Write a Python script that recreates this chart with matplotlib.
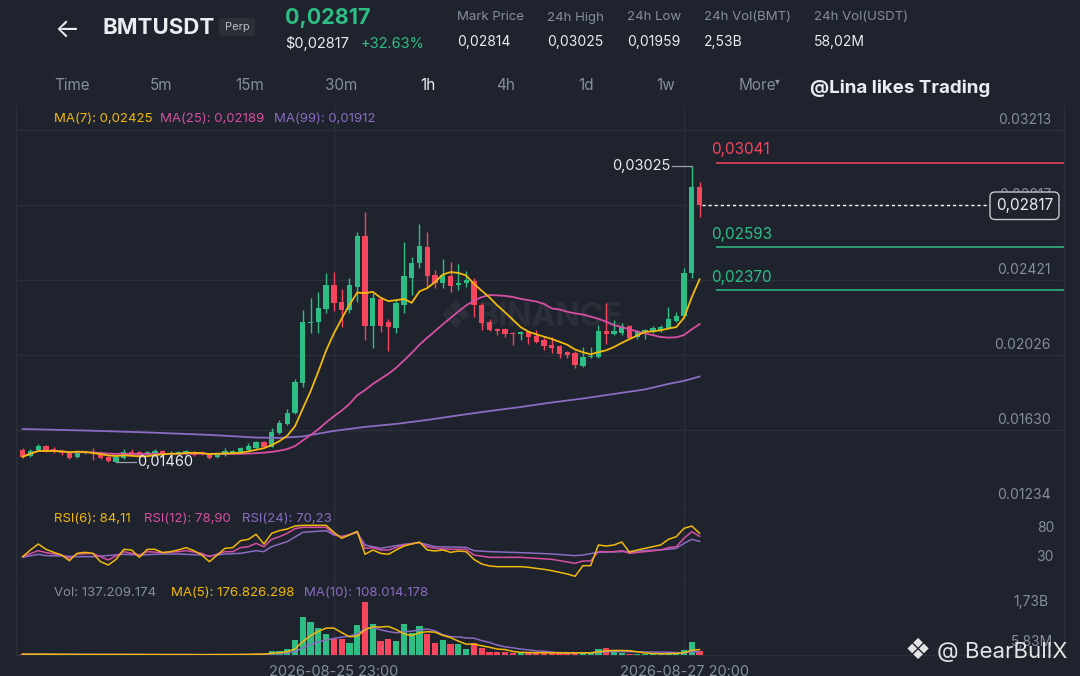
import numpy as np
import pandas as pd
import matplotlib
matplotlib.use("Agg")
import matplotlib.pyplot as plt
import matplotlib.transforms as mtransforms
from matplotlib.patches import FancyBboxPatch

# ---------------------------------------------------------------- data
# BMTUSDT perpetual, 1h candles
opens = [0.01524, 0.01493, 0.01524, 0.01545, 0.01530, 0.01521, 0.01511, 0.01486, 0.01507, 0.01512,
         0.01502, 0.01486, 0.01463, 0.01481, 0.01512, 0.01512, 0.01499, 0.01507, 0.01517, 0.01502,
         0.01502, 0.01504, 0.01515, 0.01515, 0.01503, 0.01486, 0.01498, 0.01507, 0.01512, 0.01524,
         0.01533, 0.01565, 0.01542, 0.01613, 0.01662, 0.01718, 0.01877, 0.02197, 0.02200, 0.02269,
         0.02396, 0.02304, 0.02264, 0.02387, 0.02654, 0.02179, 0.02320, 0.02202, 0.02170, 0.02290,
         0.02434, 0.02510, 0.02598, 0.02448, 0.02405, 0.02443, 0.02394, 0.02406, 0.02418, 0.02291,
         0.02202, 0.02165, 0.02163, 0.02144, 0.02135, 0.02148, 0.02126, 0.02105, 0.02079, 0.02074,
         0.02043, 0.02035, 0.01970, 0.02014, 0.02013, 0.02150, 0.02136, 0.02141, 0.02181, 0.02119,
         0.02146, 0.02150, 0.02158, 0.02170, 0.02207, 0.02232, 0.02460, 0.02910]
highs = [0.01533, 0.01530, 0.01556, 0.01550, 0.01539, 0.01526, 0.01516, 0.01518, 0.01516, 0.01535,
         0.01507, 0.01491, 0.01491, 0.01530, 0.01528, 0.01517, 0.01517, 0.01532, 0.01522, 0.01521,
         0.01517, 0.01524, 0.01520, 0.01520, 0.01507, 0.01510, 0.01533, 0.01525, 0.01540, 0.01560,
         0.01570, 0.01570, 0.01642, 0.01683, 0.01739, 0.01898, 0.02264, 0.02329, 0.02360, 0.02457,
         0.02461, 0.02375, 0.02431, 0.02677, 0.02781, 0.02353, 0.02334, 0.02216, 0.02318, 0.02621,
         0.02545, 0.02716, 0.02677, 0.02475, 0.02531, 0.02519, 0.02507, 0.02471, 0.02433, 0.02302,
         0.02215, 0.02170, 0.02167, 0.02149, 0.02152, 0.02154, 0.02158, 0.02123, 0.02123, 0.02079,
         0.02049, 0.02047, 0.02070, 0.02070, 0.02184, 0.02302, 0.02211, 0.02194, 0.02184, 0.02158,
         0.02163, 0.02179, 0.02184, 0.02281, 0.02255, 0.02486, 0.03025, 0.02936]
lows = [0.01481, 0.01488, 0.01519, 0.01516, 0.01507, 0.01498, 0.01479, 0.01481, 0.01502, 0.01472,
        0.01477, 0.01462, 0.01460, 0.01478, 0.01490, 0.01486, 0.01496, 0.01504, 0.01494, 0.01489,
        0.01499, 0.01500, 0.01494, 0.01498, 0.01477, 0.01481, 0.01494, 0.01503, 0.01508, 0.01520,
        0.01528, 0.01537, 0.01538, 0.01608, 0.01657, 0.01713, 0.01859, 0.02141, 0.02142, 0.02248,
        0.02258, 0.02175, 0.02246, 0.02307, 0.02105, 0.02065, 0.02149, 0.02049, 0.02144, 0.02246,
        0.02343, 0.02484, 0.02387, 0.02378, 0.02378, 0.02360, 0.02369, 0.02384, 0.02228, 0.02158,
        0.02153, 0.02132, 0.02123, 0.02079, 0.02105, 0.02084, 0.02088, 0.02052, 0.02035, 0.02012,
        0.02009, 0.01959, 0.01964, 0.02012, 0.02011, 0.02084, 0.02132, 0.02132, 0.02109, 0.02110,
        0.02109, 0.02141, 0.02149, 0.02162, 0.02202, 0.02222, 0.02431, 0.02756]
closes = [0.01489, 0.01521, 0.01547, 0.01521, 0.01517, 0.01507, 0.01484, 0.01512, 0.01512, 0.01507,
          0.01481, 0.01465, 0.01486, 0.01512, 0.01494, 0.01489, 0.01512, 0.01521, 0.01498, 0.01507,
          0.01512, 0.01519, 0.01498, 0.01502, 0.01484, 0.01507, 0.01521, 0.01521, 0.01536, 0.01545,
          0.01565, 0.01542, 0.01621, 0.01669, 0.01718, 0.01885, 0.02200, 0.02202, 0.02276, 0.02396,
          0.02299, 0.02264, 0.02396, 0.02654, 0.02179, 0.02325, 0.02179, 0.02172, 0.02299, 0.02440,
          0.02513, 0.02602, 0.02445, 0.02405, 0.02448, 0.02390, 0.02408, 0.02419, 0.02290, 0.02193,
          0.02158, 0.02153, 0.02135, 0.02135, 0.02148, 0.02119, 0.02096, 0.02073, 0.02065, 0.02031,
          0.02026, 0.01973, 0.02017, 0.02021, 0.02150, 0.02136, 0.02150, 0.02179, 0.02114, 0.02150,
          0.02158, 0.02167, 0.02175, 0.02215, 0.02230, 0.02460, 0.02910, 0.02817]
# traded volume, millions of BMT
volume_m = [30, 25, 28, 22, 18, 15, 20, 17, 12, 22, 16, 18, 20, 17, 14, 13, 12, 15, 13, 14,
            11, 13, 12, 11, 16, 14, 18, 16, 24, 30, 45, 38,
            131, 142, 186, 492, 1258, 1083, 875, 689, 514, 514,
            405, 985, 1730, 1006, 459, 514, 470, 1017, 711, 952,
            678, 383, 492, 350, 372, 186, 383, 219, 109, 88,
            88, 77, 77, 75, 66, 77, 66, 66, 66, 77,
            88, 66, 208, 241, 142, 77, 35.0, 42.0, 38.0, 44.0,
            37.01029, 62.5, 68.0, 175.0, 441.422316, 137.209174]

# MA(99) of close (its window reaches back before the first visible candle)
ma99_idx = [0, 8, 16, 24, 30, 33, 36, 40, 44, 48, 52, 56, 60, 64, 68, 72, 76, 80, 83, 85, 87]
ma99_val = [0.01635, 0.01627, 0.01617, 0.01604, 0.01590, 0.01588, 0.01596, 0.01625, 0.01646, 0.01662,
            0.01683, 0.01707, 0.01730, 0.01751, 0.01775, 0.01796, 0.01820, 0.01844, 0.01873, 0.01889,
            0.01912]

rsi6 = [43.9, 55.4, 65.7, 56.5, 51.3, 46.7, 37.0, 49.6, 51.3, 49.6,
        35.2, 29.5, 39.2, 56.5, 55.4, 42.7, 56.5, 56.5, 50.8, 52.5,
        55.4, 59.4, 54.2, 46.7, 35.2, 46.7, 58.2, 59.4, 71.4, 73.7,
        82.4, 65.7, 84.1, 88.7, 91.6, 96.7, 97.9, 97.9, 97.9, 97.9,
        85.8, 75.5, 81.2, 87.5, 47.9, 55.4, 49.6, 47.9, 55.4, 62.2,
        65.7, 69.1, 55.4, 53.6, 55.4, 51.3, 53.6, 52.5, 39.2, 31.2,
        27.8, 26.6, 26.6, 26.6, 26.6, 25.5, 23.7, 22.0, 19.7, 16.8,
        14.0, 10.0, 28.3, 28.3, 64.0, 62.2, 64.0, 69.1, 51.3, 55.4,
        58.2, 61.1, 64.0, 73.7, 78.3, 92.7, 96.7, 84.11]
rsi12_idx = [0, 2, 3, 5, 6, 7, 9, 11, 13, 15, 16, 18, 20, 21, 23, 24, 26, 27, 28, 29,
             30, 31, 32, 33, 34, 35, 36, 39, 40, 41, 43, 44, 45, 46, 47, 49, 51, 52, 53, 55,
             57, 58, 60, 64, 68, 71, 72, 73, 74, 76, 77, 78, 80, 82, 83, 84, 85, 86, 87]
rsi12_val = [43.9, 54.2, 50.8, 46.7, 41.0, 48.5, 49.6, 38.1, 52.5, 46.7, 52.5, 50.8, 52.5, 54.2, 49.6,
             43.9, 52.5, 52.5, 59.4, 61.1, 66.8, 61.1, 73.7, 78.3, 84.1, 92.1, 94.4, 94.4, 82.9, 78.3,
             85.8, 58.2, 59.4, 55.4, 55.4, 64.0, 68.0, 61.1, 58.2, 56.5, 56.5, 46.7, 42.7, 42.7, 39.3,
             32.4, 36.4, 36.4, 52.5, 52.5, 54.2, 49.6, 52.5, 55.4, 59.4, 61.1, 75.5, 87.0, 78.90]
rsi24_idx = [0, 2, 3, 5, 7, 9, 13, 15, 18, 20, 23, 24, 26, 28, 30, 31, 32, 34, 36, 39,
             40, 41, 43, 44, 46, 49, 51, 53, 57, 58, 60, 64, 68, 71, 72, 74, 77, 80, 83, 84,
             85, 86, 87]
rsi24_val = [42.7, 47.9, 45.6, 45.0, 43.9, 43.9, 47.9, 46.7, 48.5, 48.5, 46.7, 45.0, 48.5, 49.6, 54.2,
             52.5, 61.1, 69.7, 85.8, 88.7, 81.2, 78.3, 85.8, 64.0, 58.2, 65.1, 68.0, 61.1, 59.9, 54.2,
             52.5, 50.8, 48.5, 45.6, 46.7, 51.3, 52.5, 54.2, 56.5, 58.2, 66.8, 73.7, 70.23]

price_ticks = [0.01234, 0.01630, 0.02026, 0.02421, 0.02817, 0.03213]
rsi_ticks = [80, 30]
vol_ticks_m = [1730.0, 5.83]
time_idx = [40, 85]
time_labels = ["2026-08-25 23:00", "2026-08-27 20:00"]
levels = [0.03041, 0.02593, 0.02370]
level_kind = ["sell", "buy", "buy"]

# ---------------------------------------------------------------- style
W, H = 1080, 676
BG = "#1f232d"
GRID = "#2a2f3a"
GREEN = "#2ebd85"
RED = "#f6465d"
YELLOW = "#f0b90b"
PINK = "#d64fa2"
PURPLE = "#8a6cc2"
GREY = "#848e9c"
WHITE = "#eaecef"

plt.rcParams["font.family"] = ["Inter", "DejaVu Sans"]

fig = plt.figure(figsize=(W / 100, H / 100), dpi=100, facecolor=BG)
# pixel coordinates with the origin at the top-left corner
PX = mtransforms.Affine2D().scale(1.0 / W, -1.0 / H).translate(0, 1) + fig.transFigure


def rect(x0, y0, x1, y1):
    return [x0 / W, 1 - y1 / H, (x1 - x0) / W, (y1 - y0) / H]


def T(x, y, s, size, color, ha="left", va="center", weight="normal", **kw):
    return fig.text(x, y, s, transform=PX, fontsize=size, color=color, ha=ha,
                    va=va, fontweight=weight, **kw)


X0, X1 = 16, 1064
STEP, FIRST_X = 7.78, 22.7


def kx(px):
    return (px - FIRST_X) / STEP


XLIM = (kx(X0), kx(X1))

ax = fig.add_axes(rect(X0, 106, X1, 505))
ax_rsi = fig.add_axes(rect(X0, 505, X1, 580))
ax_vol = fig.add_axes(rect(X0, 580, X1, 655))
for a in (ax, ax_rsi, ax_vol):
    a.set_facecolor(BG)
    a.set_xlim(*XLIM)
    a.set_xticks([])
    a.set_yticks([])
    for s in a.spines.values():
        s.set_visible(False)
    for xv in time_idx:
        a.axvline(xv, color=GRID, lw=1, zorder=0)
    a.axvline(XLIM[0], color=GRID, lw=1, zorder=0, clip_on=False)
    a.axvline(XLIM[1], color=GRID, lw=1, zorder=0, clip_on=False)

# ---------------------------------------------------------------- price panel
step = (price_ticks[-1] - price_ticks[0]) / (len(price_ticks) - 1)
ax.set_ylim(price_ticks[0], price_ticks[0] + step * (505 - 106) / 75.0)
for t in price_ticks:
    ax.axhline(t, color=GRID, lw=1, zorder=0, clip_on=False)

o = np.array(opens)
h = np.array(highs)
l = np.array(lows)
c = np.array(closes)
k = np.arange(len(c))
col = np.where(c >= o, GREEN, RED)
body_lo = np.minimum(o, c)
body_h = np.maximum(np.abs(c - o), 0.00005)
ax.vlines(k, l, h, colors=col, lw=1, zorder=3)
ax.bar(k, body_h, bottom=body_lo, width=0.68, color=col, lw=0, zorder=4)

cs = pd.Series(closes)
ma7 = cs.rolling(7, min_periods=1).mean()
ma25 = cs.rolling(25, min_periods=1).mean()
ax.plot(ma99_idx, ma99_val, color=PURPLE, lw=1.3, zorder=5)
ax.plot(k, ma25, color=PINK, lw=1.3, zorder=5)
ax.plot(k, ma7, color=YELLOW, lw=1.3, zorder=5)

# faint exchange watermark
ax.text(kx(456), 0.039004 - 0.0000528 * 318, "\u2756", fontsize=27, color="#2a2f3a",
        ha="center", va="center", family="DejaVu Sans", zorder=1)
ax.text(kx(478), 0.039004 - 0.0000528 * 318, "BINANCE", fontsize=23, color="#2a2f3a",
        ha="left", va="center", fontweight="bold", zorder=1)

# right-hand price scale, labels sit above their grid lines
lab_x = (1051 - X0) / (X1 - X0)
tr_up10 = mtransforms.offset_copy(ax.get_yaxis_transform(), fig=fig, x=0, y=10, units="dots")
for t in price_ticks:
    ax.text(lab_x, t, f"{t:.5f}", transform=tr_up10, ha="right", va="center",
            color=GREY, fontsize=10, zorder=6)

# order levels
tr_up13 = mtransforms.offset_copy(ax.transData, fig=fig, x=0, y=12.7, units="dots")
for lv, kind in zip(levels, level_kind):
    lc = RED if kind == "sell" else GREEN
    ax.hlines(lv, kx(715.5), XLIM[1], colors=lc, lw=1.1, zorder=5)
    ax.text(kx(711.5), lv, f"{lv:.5f}".replace(".", ","), transform=tr_up13, color=lc,
            fontsize=11, ha="left", va="center", zorder=6)

# last price line
last = closes[-1]
ax.hlines(last, kx(701.5), kx(989.5), colors="white", lw=1, linestyles=(0, (2.2, 2.2)), zorder=6)

# high / low markers
hi_k = int(np.argmax(h))
lo_k = int(np.argmin(l))
span = 2.6
ax.plot([hi_k - span, hi_k], [h[hi_k], h[hi_k]], color="#9aa1ab", lw=0.9, zorder=6)
ax.text(hi_k - span - 0.15, h[hi_k], f"{h[hi_k]:.5f}".replace(".", ","), color=WHITE,
        fontsize=10.5, ha="right", va="center", zorder=6)
ax.plot([lo_k, lo_k + span], [l[lo_k], l[lo_k]], color="#9aa1ab", lw=0.9, zorder=6)
ax.text(lo_k + span + 0.15, l[lo_k], f"{l[lo_k]:.5f}".replace(".", ","), color=WHITE,
        fontsize=10.5, ha="left", va="center", zorder=6)

# ---------------------------------------------------------------- RSI panel
ax_rsi.set_ylim(3.62, 132.93)
ax_rsi.plot(rsi24_idx, rsi24_val, color=PURPLE, lw=1.1, zorder=3)
ax_rsi.plot(rsi12_idx, rsi12_val, color=PINK, lw=1.1, zorder=3)
ax_rsi.plot(k, rsi6, color=YELLOW, lw=1.1, zorder=4)
ax_rsi.axhline(ax_rsi.get_ylim()[0], color=GRID, lw=1, clip_on=False)
rsi_lab_x = (1054 - X0) / (X1 - X0)
tr_rsi = mtransforms.offset_copy(ax_rsi.get_yaxis_transform(), fig=fig, x=0, y=8, units="dots")
for t in rsi_ticks:
    ax_rsi.text(rsi_lab_x, t, f"{t}", transform=tr_rsi, ha="right", va="center",
                color=GREY, fontsize=10)

# ---------------------------------------------------------------- volume panel
vol = np.array(volume_m)
ax_vol.set_ylim(0, vol_ticks_m[0] * 75 / 52.7)
ax_vol.bar(k, vol, width=0.8, color=col, lw=0, zorder=3)
vs = pd.Series(volume_m)
vma5 = vs.rolling(5, min_periods=1).mean()
vma10 = vs.rolling(10, min_periods=1).mean()
ax_vol.plot(k, vma10, color=PURPLE, lw=1.1, zorder=4)
ax_vol.plot(k, vma5, color=YELLOW, lw=1.1, zorder=4)
ax_vol.axhline(0, color=GRID, lw=1, clip_on=False, zorder=0)
ax_vol.text((1049 - X0) / (X1 - X0), vol_ticks_m[0],
            f"{vol_ticks_m[0] / 1000:.2f}B".replace(".", ","),
            transform=ax_vol.get_yaxis_transform(), ha="right", va="center", color=GREY, fontsize=10)
tr_vol = mtransforms.offset_copy(ax_vol.get_yaxis_transform(), fig=fig, x=0, y=13, units="dots")
ax_vol.text((1053 - X0) / (X1 - X0), vol_ticks_m[1],
            f"{vol_ticks_m[1]:.2f}M".replace(".", ","),
            transform=tr_vol, ha="right", va="center", color=GREY, fontsize=10)

tr_time = mtransforms.offset_copy(ax_vol.get_xaxis_transform(), fig=fig, x=0, y=-17, units="dots")
for xi, lab in zip(time_idx, time_labels):
    ax_vol.text(xi, 0, lab, transform=tr_time, ha="center", va="center", color=GREY, fontsize=10.5)

# ---------------------------------------------------------------- header
T(66.5, 29.5, "\u2190", 19, WHITE, ha="center")
T(102, 27.5, "BMTUSDT", 16, WHITE, weight="bold")
fig.add_artist(FancyBboxPatch((219, 18), 36, 18, boxstyle="round,pad=0,rounding_size=3",
                              transform=PX, fc="#2b3039", ec="none"))
T(237, 26.5, "Perp", 8, "#b7bdc6", ha="center")
T(285, 17.5, f"{last:.5f}".replace(".", ","), 15.5, GREEN, weight="bold")
T(285, 43.5, "$" + f"{last:.5f}".replace(".", ","), 10.5, WHITE)
T(360.5, 43.5, "+32.63%", 10.5, GREEN)

stat_names = ["Mark Price", "24h High", "24h Low", "24h Vol(BMT)", "24h Vol(USDT)"]
stat_values = ["0,02814", f"{max(highs[-24:]):.5f}".replace(".", ","),
               f"{min(lows[-24:]):.5f}".replace(".", ","), "2,53B", "58,02M"]
stat_x = [457, 547, 627, 704, 814]
for sx, sn, sv in zip(stat_x, stat_names, stat_values):
    T(sx, 17.5, sn, 9.5, GREY)
    T(sx, 42, sv, 10, WHITE)

T(54, 85, "Time", 11, GREY)
for lab, cx in [("5m", 161), ("15m", 250), ("30m", 341), ("1h", 427.5), ("4h", 506),
                ("1d", 586), ("1w", 666)]:
    T(cx, 85, lab, 11, WHITE if lab == "1h" else GREY, ha="center")
T(739, 85, "More", 11, GREY)
T(775, 81.5, "\u25BE", 7, GREY, family="DejaVu Sans")
T(810, 88, "@Lina likes Trading", 13.5, WHITE, weight="bold")

T(54.5, 119.5, f"MA(7): {ma7.iloc[-1]:.5f}".replace(".", ","), 9.5, YELLOW)
T(160.5, 119.5, f"MA(25): {ma25.iloc[-1]:.5f}".replace(".", ","), 9.5, PINK)
T(274.5, 119.5, f"MA(99): {ma99_val[-1]:.5f}".replace(".", ","), 9.5, PURPLE)

T(54, 518.5, f"RSI(6): {rsi6[-1]:.2f}".replace(".", ","), 9.5, YELLOW)
T(144.5, 518.5, f"RSI(12): {rsi12_val[-1]:.2f}".replace(".", ","), 9.5, PINK)
T(242, 518.5, f"RSI(24): {rsi24_val[-1]:.2f}".replace(".", ","), 9.5, PURPLE)


def dotted(v_m):
    return f"{int(round(v_m * 1e6)):,}".replace(",", ".")


T(54, 592.5, "Vol: " + dotted(volume_m[-1]), 9.5, GREY)
T(171, 592.5, "MA(5): " + dotted(vma5.iloc[-1]), 9.5, YELLOW)
T(304.5, 592.5, "MA(10): " + dotted(vma10.iloc[-1]), 9.5, PURPLE)

# current price tag on the scale
fig.add_artist(FancyBboxPatch((990, 192), 69, 27.5, boxstyle="round,pad=0,rounding_size=5",
                              transform=PX, fc=BG, ec="#c4c8ce", lw=1, zorder=10))
T(1024.5, 205.5, f"{last:.5f}".replace(".", ","), 11, WHITE, ha="center", zorder=11)

# channel watermark
T(918, 651, "\u2756", 21, "#e4e4e4", ha="center", family="DejaVu Sans", zorder=12)
T(937, 651.5, "@ BearBullX", 16, "#e4e4e4", zorder=12)

fig.savefig("out.png", dpi=100, facecolor=BG)
